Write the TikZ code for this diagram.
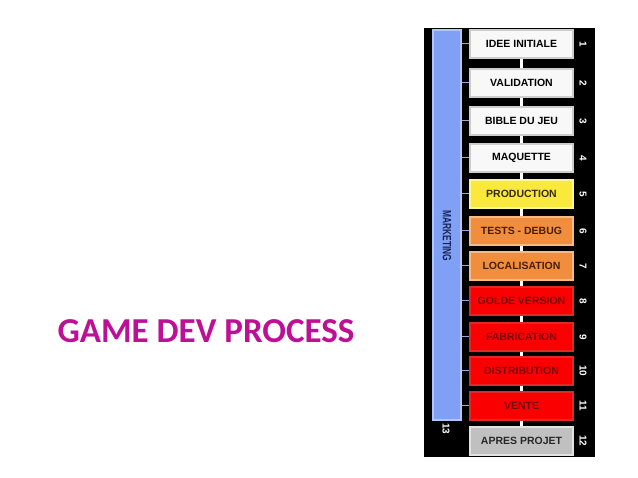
\documentclass[tikz,border=0pt]{standalone}
\usepackage{fontspec}
\setmainfont{Liberation Sans}
\newfontfamily\titlefont{Carlito}
\definecolor{titlemag}{RGB}{190,16,150}
\definecolor{barblue}{RGB}{128,160,245}
\definecolor{baredge}{RGB}{175,198,255}
\definecolor{barlink}{RGB}{150,170,225}
\definecolor{mktext}{RGB}{25,35,90}
\definecolor{wfill}{RGB}{248,248,248}
\definecolor{wedge}{RGB}{205,205,205}
\definecolor{yfill}{RGB}{250,232,60}
\definecolor{yedge}{RGB}{252,245,150}
\definecolor{ytext}{RGB}{50,45,10}
\definecolor{ofill}{RGB}{240,142,62}
\definecolor{oedge}{RGB}{250,185,130}
\definecolor{otext}{RGB}{70,30,5}
\definecolor{rfill}{RGB}{250,0,0}
\definecolor{redge}{RGB}{225,40,40}
\definecolor{rtext}{RGB}{120,5,5}
\definecolor{gfill}{RGB}{192,192,192}
\definecolor{gedge}{RGB}{225,225,225}
\definecolor{gtext}{RGB}{40,40,40}
\begin{document}
\begin{tikzpicture}[x=1pt,y=-1pt,
  stage/.style={minimum width=103pt, minimum height=28pt, inner sep=0pt,
    line width=1.6pt, font=\bfseries\fontsize{10.5}{12}\selectfont},
  wbox/.style={stage, fill=wfill, draw=wedge, text=black},
  ybox/.style={stage, fill=yfill, draw=yedge, text=ytext},
  obox/.style={stage, fill=ofill, draw=oedge, text=otext},
  rbox/.style={stage, fill=rfill, draw=redge, text=rtext},
  gbox/.style={stage, fill=gfill, draw=gedge, text=gtext},
  num/.style={rotate=-90, text=white, inner sep=0pt, font=\bfseries\fontsize{10}{11}\selectfont},
  flow/.style={draw=white, line width=3pt},
  barlinkstyle/.style={draw=barlink, line width=1pt}]
\useasboundingbox (0,0) rectangle (638,478);
\fill[white] (0,0) rectangle (638,478);
\fill[black] (424,28) rectangle (595,457);
% marketing bar
\node[minimum width=28pt, minimum height=390pt, inner sep=0pt, fill=barblue, draw=baredge, line width=1.5pt] (mk) at (447,225) {};
\node[rotate=-90, text=mktext, inner sep=0pt, font=\bfseries\fontsize{12}{14}\selectfont] (mktxt) at (447,236) {\scalebox{0.7}[1]{MARKETING}};
\node[num] (n13) at (446,429) {13};
% stages
\node[wbox] (b1) at (521.5,44) {IDEE INITIALE};
\node[wbox] (b2) at (521.5,83) {VALIDATION};
\node[wbox] (b3) at (521.5,121) {BIBLE DU JEU};
\node[wbox] (b4) at (521.5,158) {MAQUETTE};
\node[ybox] (b5) at (521.5,194) {PRODUCTION};
\node[obox] (b6) at (521.5,231) {TESTS - DEBUG};
\node[obox] (b7) at (521.5,266) {LOCALISATION};
\node[rbox] (b8) at (521.5,301) {GOLDE VERSION};
\node[rbox] (b9) at (521.5,337) {FABRICATION};
\node[rbox] (b10) at (521.5,371) {DISTRIBUTION};
\node[rbox] (b11) at (521.5,406) {VENTE};
\node[gbox] (b12) at (521.5,441) {APRES PROJET};
% numbers
\foreach \i/\y in {1/44,2/83,3/121,4/158,5/194,6/231,7/266,8/301,9/337,10/371,11/406,12/441}
  \node[num] (n\i) at (583,\y) {\i};
% flow connectors
\foreach \a/\b in {1/2,2/3,3/4,4/5,5/6,6/7,7/8,8/9,9/10,10/11,11/12}
  \draw[flow] (b\a.south) -- (b\b.north);
% bar links
\foreach \i in {1,...,11}
  \draw[barlinkstyle] (mk.east |- b\i.west) -- (b\i.west);
% title
\node[text=titlemag, font=\titlefont\bfseries\fontsize{35}{40}\selectfont, inner sep=0pt] (title) at (206,331) {GAME DEV PROCESS};
\end{tikzpicture}
\end{document}
